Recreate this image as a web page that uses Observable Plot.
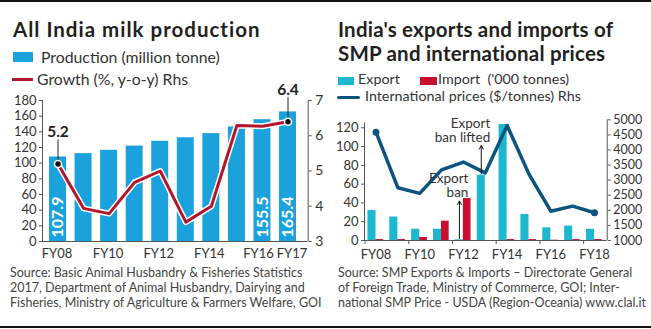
<!DOCTYPE html>
<html><head><meta charset="utf-8">
<script src="https://cdn.jsdelivr.net/npm/d3@7"></script>
<script src="https://cdn.jsdelivr.net/npm/@observablehq/plot@0.6"></script>
<style>
body{margin:0;background:#fff;font-family:Lato,"Noto Sans",sans-serif;color:#231f20}
#wrap{position:relative;width:651px;height:329px;overflow:hidden;background:#fff}
.abs{position:absolute;white-space:nowrap}
.title{font-weight:700;font-size:20.5px;line-height:24px;color:#231f20}
.leg{font-size:14.3px;color:#333}
.cap{font-size:12.5px;line-height:15px;color:#444}
.sw{position:absolute}
</style></head>
<body><div id="wrap">
<div class="abs" style="left:0;top:0;width:651px;height:1.5px;background:#111"></div>
<div class="abs" style="left:0;top:326px;width:651px;height:2px;background:#111"></div>

<div class="abs title" style="left:13px;top:17px;letter-spacing:1px">All India milk production</div>
<div class="sw" style="left:13px;top:52px;width:20px;height:10px;background:#1ba1dc"></div>
<div class="abs leg" style="left:41px;top:47px;font-size:15.8px">Production (million tonne)</div>
<div class="sw" style="left:12px;top:78px;width:21px;height:3px;background:#b0172f"></div>
<div class="abs leg" style="left:37px;top:69px;font-size:15.8px">Growth (%, y-o-y) Rhs</div>

<div class="abs title" style="left:338px;top:17px;letter-spacing:0.2px">India's exports and imports of<br>SMP and international prices</div>
<div class="sw" style="left:338px;top:77px;width:16px;height:8px;background:#1cb8cf"></div>
<div class="abs leg" style="left:358px;top:70px">Export</div>
<div class="sw" style="left:420px;top:77px;width:17px;height:8px;background:#c8102e"></div>
<div class="abs leg" style="left:438px;top:70px">Import&nbsp; ('000 tonnes)</div>
<div class="sw" style="left:337px;top:96px;width:23px;height:3px;background:#0c5480;border-radius:2px"></div>
<div class="abs leg" style="left:365px;top:87px">International prices ($/tonnes) Rhs</div>

<div id="left" class="abs" style="left:0;top:70px"></div>
<div id="right" class="abs" style="left:330px;top:105px"></div>

<div class="abs cap" style="left:10px;top:265px">Source: Basic Animal Husbandry &amp; Fisheries Statistics<br>2017, Department of Animal Husbandry, Dairying and<br>Fisheries, Ministry of Agriculture &amp; Farmers Welfare, GOI</div>
<div class="abs cap" style="left:338px;top:265px">Source: SMP Exports &amp; Imports – Directorate General<br>of Foreign Trade, Ministry of Commerce, GOI; Inter-<br>national SMP Price - USDA (Region-Oceania) www.clal.it</div>
</div>
<script>
// ---------- Left chart data ----------
const milkYears = ["FY08","FY09","FY10","FY11","FY12","FY13","FY14","FY15","FY16","FY17"];
const milkProduction = [107.9,112.2,116.4,121.8,127.9,132.4,137.7,146.3,155.5,165.4];
const milkGrowth = [5.2,3.94,3.79,4.68,5.0,3.55,4.0,6.29,6.27,6.4];
const milkTickLabels = ["FY08","FY10","FY12","FY14","FY16","FY17"];
const milkTickNudge = [-1, -1, -1.5, -2, -4, 4];
const milkLeftTicks = [0,20,40,60,80,100,120,140,160,180];
const milkRightTicks = [3,4,5,6,7];
const milkBarLabelYears = ["FY08","FY16","FY17"];
const milkPointLabelYears = ["FY08","FY17"];

// ---------- Right chart data ----------
const smpYears = ["FY08","FY09","FY10","FY11","FY12","FY13","FY14","FY15","FY16","FY17","FY18"];
const smpExport = [32,25,12,12,0.7,69.6,123.5,27.7,13.5,15.3,12];
const smpImport = [1,1,3.2,20.6,44.7,0,1,1,0.3,1,1];
const smpPrice = [4590,2750,2560,3340,3600,3240,4810,3200,1970,2140,1920];
const smpTickLabels = ["FY08","FY10","FY12","FY14","FY16","FY18"];
const smpLeftTicks = [0,20,40,60,80,100,120];
const smpRightTicks = [1000,1500,2000,2500,3000,3500,4000,4500,5000];
const smpNoteYears = ["FY12","FY12","FY13","FY13"];
const smpNoteTexts = ["Export","ban","Export","ban lifted"];
const smpNoteTextAt = [66,51.2,124.3,109.7];
const smpArrowYears = ["FY12","FY13"];
const smpArrowFrom = [2,71];
const smpArrowTo = [42,101];

const font = {fontFamily:"Lato, 'Noto Sans', sans-serif", fontSize:"13px", color:"#333", background:"transparent", overflow:"visible"};

// ---------- Left chart ----------
{
  const gMin = 3, gMax = 7, yMax = 180;
  const g2y = g => (g - gMin) / (gMax - gMin) * yMax;
  const milk = milkYears.map((y, i) => ({year: y, i, c: i + 0.5, prod: milkProduction[i], growth: g2y(milkGrowth[i]), g: milkGrowth[i]}));
  const barLab = milk.filter(d => milkBarLabelYears.includes(d.year));
  const ptLab = milk.filter(d => milkPointLabelYears.includes(d.year));
  const xDom = [-0.107, 10.29];
  const xLabels = milkTickLabels.map((l, k) => Plot.text([{c: milkYears.indexOf(l) + 0.5, label: l}], {x: "c", text: "label", frameAnchor: "bottom", lineAnchor: "top", dy: 7, dx: milkTickNudge[k], fontSize: 13, fill: "#333"}));
  const plot = Plot.plot({
    width: 330, height: 195,
    marginLeft: 42, marginRight: 22.3, marginTop: 30, marginBottom: 24,
    style: font,
    x: {type: "linear", domain: xDom, axis: null},
    y: {domain: [0, yMax], axis: null},
    marks: [
      Plot.rectY(milk, {x: "i", interval: 1, y: "prod", fill: "#1ba1dc", insetLeft: 4.3, insetRight: 4.3}),
      Plot.text(barLab, {x: "c", y: 0, text: d => d.prod.toFixed(1), rotate: -90, textAnchor: "start", dy: -4, fill: "white", fontWeight: 700, fontSize: 16}),
      Plot.ruleY([0], {x1: xDom[0], x2: xDom[1], stroke: "#555", strokeWidth: 1}),
      Plot.ruleX([xDom[0]], {y1: 0, y2: yMax, stroke: "#555"}),
      Plot.ruleX([xDom[1]], {y1: 0, y2: yMax, stroke: "#555"}),
      Plot.line(milk, {x: "c", y: "growth", stroke: "white", strokeWidth: 6, strokeLinejoin: "round"}),
      Plot.line(milk, {x: "c", y: "growth", stroke: "#b0172f", strokeWidth: 3, strokeLinejoin: "round"}),
      Plot.ruleX(ptLab, {x: "c", y1: "growth", y2: "growth", insetTop: -24, stroke: "#222", strokeWidth: 1}),
      Plot.dot(ptLab, {x: "c", y: "growth", r: 3.5, fill: "#111", stroke: "white", strokeWidth: 1.5}),
      Plot.text(ptLab, {x: "c", y: "growth", text: d => d.g.toFixed(1), dy: -32, fontWeight: 700, fontSize: 15.5, fill: "#222"}),
      Plot.axisY({ticks: milkLeftTicks, anchor: "left", tickSize: 3, tickPadding: 3, fontSize: 13, stroke: "#555"}),
      Plot.axisY({ticks: milkRightTicks.map(g2y), tickFormat: v => String(Math.round(gMin + v / yMax * (gMax - gMin))), anchor: "right", tickSize: 3, tickPadding: 4, fontSize: 14, stroke: "#555"}),
      ...xLabels
    ]
  });
  document.getElementById("left").appendChild(plot);
}

// ---------- Right chart ----------
{
  const pMin = 1000, pMax = 5000, pTop = 128.5;
  const p2y = p => (p - pMin) / (pMax - pMin) * pTop;
  const smp = smpYears.map((y, i) => ({year: y, i, c: i + 0.5, exp: smpExport[i], imp: smpImport[i], price: p2y(smpPrice[i])}));
  const ends = [smp[0], smp[smp.length - 1]];
  const notes = smpNoteYears.map((y, k) => ({c: smpYears.indexOf(y) + 0.5, text: smpNoteTexts[k], at: smpNoteTextAt[k]}));
  const arrows = smpArrowYears.map((y, k) => ({c: smpYears.indexOf(y) + 0.5, from: smpArrowFrom[k], to: smpArrowTo[k]}));
  const xDom = [-0.026, 11.08];
  const plot = Plot.plot({
    width: 321, height: 160,
    marginLeft: 34, marginRight: 44.3, marginTop: 17.6, marginBottom: 25,
    style: font,
    x: {type: "linear", domain: xDom, axis: null},
    y: {domain: [0, 125], axis: null},
    marks: [
      Plot.rectY(smp, {x: "i", interval: 1, y: "exp", fill: "#1cb8cf", insetLeft: 2.9, insetRight: 10.9}),
      Plot.rectY(smp, {x: "i", interval: 1, y: "imp", fill: "#c8102e", insetLeft: 10.9, insetRight: 3.3}),
      Plot.ruleY([0], {x1: xDom[0], x2: xDom[1], stroke: "#555"}),
      Plot.ruleX([xDom[0]], {y1: 0, y2: 125, stroke: "#555"}),
      Plot.ruleX([xDom[1]], {y1: 0, y2: pTop, stroke: "#555"}),
      Plot.line(smp, {x: "c", y: "price", stroke: "#0c5480", strokeWidth: 3.5, strokeLinejoin: "round"}),
      Plot.dot(ends, {x: "c", y: "price", r: 3.5, fill: "#0c5480"}),
      Plot.arrow(arrows, {x1: "c", x2: "c", y1: "from", y2: "to", dx: -4, stroke: "#111", strokeWidth: 1, headLength: 6}),
      Plot.text(notes, {x: "c", y: "at", text: "text", textAnchor: "end", dx: 5, fontSize: 13.5, fill: "#333"}),
      Plot.axisY({ticks: smpLeftTicks, anchor: "left", tickSize: 3, tickPadding: 3, fontSize: 13, stroke: "#555"}),
      Plot.axisY({ticks: smpRightTicks.map(p2y), tickFormat: v => String(Math.round((pMin + v / pTop * (pMax - pMin)) / 100) * 100), anchor: "right", tickSize: 3, tickPadding: 3, fontSize: 12.5, stroke: "#555"}),
      Plot.axisX({ticks: smpTickLabels.map(l => smpYears.indexOf(l)), tickFormat: () => "", tickSize: 4, stroke: "#555"}),
      Plot.axisX({ticks: smpTickLabels.map(l => smpYears.indexOf(l) + 0.5), tickFormat: v => smpYears[Math.round(v - 0.5)], tickSize: 0, tickPadding: 9, fontSize: 13})
    ]
  });
  document.getElementById("right").appendChild(plot);
}
</script>
</body></html>
